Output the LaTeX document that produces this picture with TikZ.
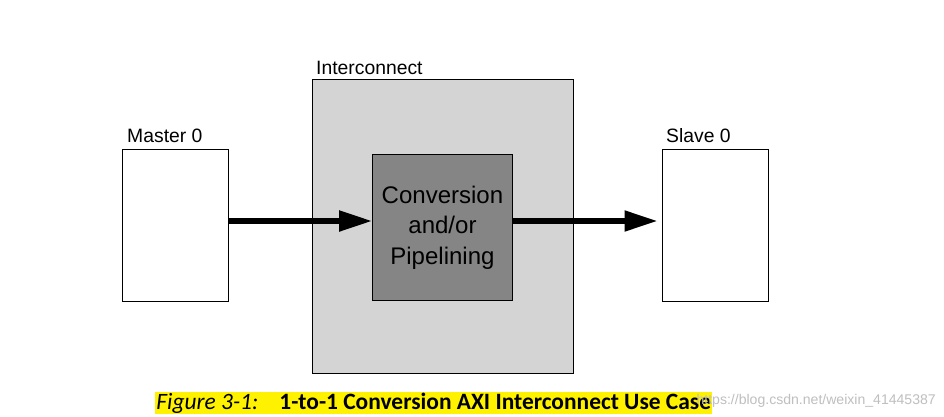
\documentclass[tikz,border=0pt]{standalone}
\usepackage{fontspec}
\setmainfont{Liberation Sans}
\newfontfamily\capfont{Carlito}
\usetikzlibrary{arrows.meta}
\begin{document}
\begin{tikzpicture}[x=0.03cm,y=-0.03cm,
  box/.style={draw=black,line width=0.8pt},
  lbl/.style={anchor=south west,inner sep=0pt,font=\fontsize{16.5}{18}\selectfont},
  arr/.style={line width=4.5pt,-{Triangle[length=28pt,width=17pt]}}]
\useasboundingbox[fill=white] (0,0) rectangle (944,417);
\node[box,fill=white,minimum width=106*0.03cm,minimum height=152*0.03cm,inner sep=0pt,anchor=north west] (m) at (122,149) {};
\node[box,fill=white,minimum width=106*0.03cm,minimum height=152*0.03cm,inner sep=0pt,anchor=north west] (s) at (662,149) {};
\node[box,fill=black!17,minimum width=261*0.03cm,minimum height=294*0.03cm,inner sep=0pt,anchor=north west] (ic) at (312,79) {};
\node[box,fill=black!48,minimum width=140*0.03cm,minimum height=146*0.03cm,inner sep=0pt,anchor=north west,align=center,font=\fontsize{20.5}{26}\selectfont] (cv) at (372,154) {\raisebox{-4pt}{\parbox{3.8cm}{\centering Conversion\\and/or\\Pipelining}}};
\node[lbl] (lm) at (127,143) {Master 0};
\node[lbl] (ls) at (666,143) {Slave 0};
\node[lbl] (li) at (316,75) {Interconnect};
\coordinate (a1) at (228,221);
\coordinate (a2) at (512,221);
\draw[arr] (a1) -- (cv.west |- a1);
\draw[arr] (a2) -- ([xshift=-4pt]s.west |- a2);
\node[fill=yellow,inner sep=1pt,anchor=west,font=\capfont\fontsize{20}{22}\selectfont] (cap) at (155,403) {\textit{Figure 3-1:}\hspace{0.9em}\textbf{1-to-1 Conversion AXI Interconnect Use Case}};
\node[anchor=east,text=black!25,inner sep=0pt,font=\fontsize{12}{13}\selectfont] (wm) at (936,401) {https://blog.csdn.net/weixin\_41445387};
\end{tikzpicture}
\end{document}
